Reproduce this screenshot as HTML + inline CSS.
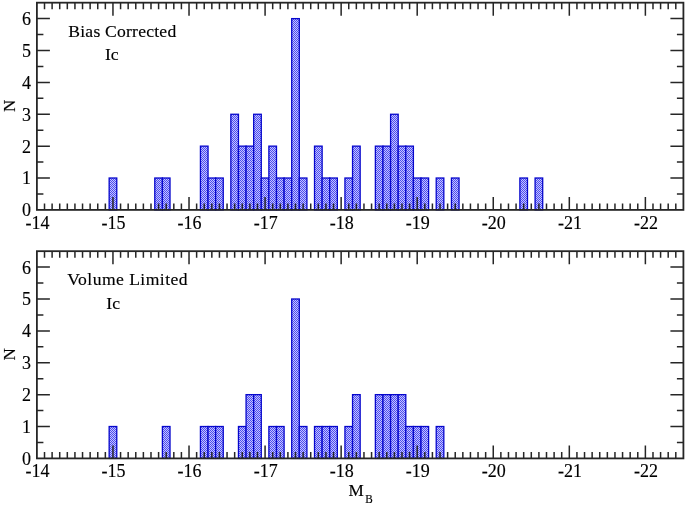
<!DOCTYPE html>
<html><head><meta charset="utf-8"><style>
html,body{margin:0;padding:0;background:#fff;}
svg{display:block;font-family:"Liberation Serif","Times New Roman",serif;}
text{stroke:#000;stroke-width:0.15px;}
</style></head><body>
<svg width="686" height="506" viewBox="0 0 686 506">
<defs><pattern id="chk" width="2" height="2" patternUnits="userSpaceOnUse">
<rect width="2" height="2" fill="#c4c4ff"/><rect width="1" height="1" fill="#4c4cf0"/><rect x="1" y="1" width="1" height="1" fill="#4c4cf0"/>
</pattern></defs>
<rect width="686" height="506" fill="#fff"/>
<g fill="url(#chk)" stroke="#0606cc" stroke-width="1.3"><rect x="109.16" y="178.02" width="7.61" height="31.88"/><rect x="154.79" y="178.02" width="7.61" height="31.88"/><rect x="162.4" y="178.02" width="7.61" height="31.88"/><rect x="200.43" y="146.14" width="7.61" height="63.76"/><rect x="208.04" y="178.02" width="7.61" height="31.88"/><rect x="215.64" y="178.02" width="7.61" height="31.88"/><rect x="230.85" y="114.26" width="7.61" height="95.64"/><rect x="238.46" y="146.14" width="7.61" height="63.76"/><rect x="246.07" y="146.14" width="7.61" height="63.76"/><rect x="253.67" y="114.26" width="7.61" height="95.64"/><rect x="261.28" y="178.02" width="7.61" height="31.88"/><rect x="268.88" y="146.14" width="7.61" height="63.76"/><rect x="276.49" y="178.02" width="7.61" height="31.88"/><rect x="284.1" y="178.02" width="7.61" height="31.88"/><rect x="291.7" y="18.62" width="7.61" height="191.28"/><rect x="299.31" y="178.02" width="7.61" height="31.88"/><rect x="314.52" y="146.14" width="7.61" height="63.76"/><rect x="322.13" y="178.02" width="7.61" height="31.88"/><rect x="329.73" y="178.02" width="7.61" height="31.88"/><rect x="344.94" y="178.02" width="7.61" height="31.88"/><rect x="352.55" y="146.14" width="7.61" height="63.76"/><rect x="375.37" y="146.14" width="7.61" height="63.76"/><rect x="382.97" y="146.14" width="7.61" height="63.76"/><rect x="390.58" y="114.26" width="7.61" height="95.64"/><rect x="398.19" y="146.14" width="7.61" height="63.76"/><rect x="405.79" y="146.14" width="7.61" height="63.76"/><rect x="413.4" y="178.02" width="7.61" height="31.88"/><rect x="421" y="178.02" width="7.61" height="31.88"/><rect x="436.22" y="178.02" width="7.61" height="31.88"/><rect x="451.43" y="178.02" width="7.61" height="31.88"/><rect x="519.88" y="178.02" width="7.61" height="31.88"/><rect x="535.09" y="178.02" width="7.61" height="31.88"/></g>
<path d="M44.51 209.9v-6.5M44.51 2.68v6.5M52.11 209.9v-6.5M52.11 2.68v6.5M59.72 209.9v-6.5M59.72 2.68v6.5M67.32 209.9v-6.5M67.32 2.68v6.5M74.93 209.9v-6.5M74.93 2.68v6.5M82.54 209.9v-6.5M82.54 2.68v6.5M90.14 209.9v-6.5M90.14 2.68v6.5M97.75 209.9v-6.5M97.75 2.68v6.5M105.35 209.9v-6.5M105.35 2.68v6.5M112.96 209.9v-13M112.96 2.68v13M120.57 209.9v-6.5M120.57 2.68v6.5M128.17 209.9v-6.5M128.17 2.68v6.5M135.78 209.9v-6.5M135.78 2.68v6.5M143.38 209.9v-6.5M143.38 2.68v6.5M150.99 209.9v-6.5M150.99 2.68v6.5M158.6 209.9v-6.5M158.6 2.68v6.5M166.2 209.9v-6.5M166.2 2.68v6.5M173.81 209.9v-6.5M173.81 2.68v6.5M181.41 209.9v-6.5M181.41 2.68v6.5M189.02 209.9v-13M189.02 2.68v13M196.63 209.9v-6.5M196.63 2.68v6.5M204.23 209.9v-6.5M204.23 2.68v6.5M211.84 209.9v-6.5M211.84 2.68v6.5M219.44 209.9v-6.5M219.44 2.68v6.5M227.05 209.9v-6.5M227.05 2.68v6.5M234.66 209.9v-6.5M234.66 2.68v6.5M242.26 209.9v-6.5M242.26 2.68v6.5M249.87 209.9v-6.5M249.87 2.68v6.5M257.47 209.9v-6.5M257.47 2.68v6.5M265.08 209.9v-13M265.08 2.68v13M272.69 209.9v-6.5M272.69 2.68v6.5M280.29 209.9v-6.5M280.29 2.68v6.5M287.9 209.9v-6.5M287.9 2.68v6.5M295.5 209.9v-6.5M295.5 2.68v6.5M303.11 209.9v-6.5M303.11 2.68v6.5M310.72 209.9v-6.5M310.72 2.68v6.5M318.32 209.9v-6.5M318.32 2.68v6.5M325.93 209.9v-6.5M325.93 2.68v6.5M333.53 209.9v-6.5M333.53 2.68v6.5M341.14 209.9v-13M341.14 2.68v13M348.75 209.9v-6.5M348.75 2.68v6.5M356.35 209.9v-6.5M356.35 2.68v6.5M363.96 209.9v-6.5M363.96 2.68v6.5M371.56 209.9v-6.5M371.56 2.68v6.5M379.17 209.9v-6.5M379.17 2.68v6.5M386.78 209.9v-6.5M386.78 2.68v6.5M394.38 209.9v-6.5M394.38 2.68v6.5M401.99 209.9v-6.5M401.99 2.68v6.5M409.59 209.9v-6.5M409.59 2.68v6.5M417.2 209.9v-13M417.2 2.68v13M424.81 209.9v-6.5M424.81 2.68v6.5M432.41 209.9v-6.5M432.41 2.68v6.5M440.02 209.9v-6.5M440.02 2.68v6.5M447.62 209.9v-6.5M447.62 2.68v6.5M455.23 209.9v-6.5M455.23 2.68v6.5M462.84 209.9v-6.5M462.84 2.68v6.5M470.44 209.9v-6.5M470.44 2.68v6.5M478.05 209.9v-6.5M478.05 2.68v6.5M485.65 209.9v-6.5M485.65 2.68v6.5M493.26 209.9v-13M493.26 2.68v13M500.87 209.9v-6.5M500.87 2.68v6.5M508.47 209.9v-6.5M508.47 2.68v6.5M516.08 209.9v-6.5M516.08 2.68v6.5M523.68 209.9v-6.5M523.68 2.68v6.5M531.29 209.9v-6.5M531.29 2.68v6.5M538.9 209.9v-6.5M538.9 2.68v6.5M546.5 209.9v-6.5M546.5 2.68v6.5M554.11 209.9v-6.5M554.11 2.68v6.5M561.71 209.9v-6.5M561.71 2.68v6.5M569.32 209.9v-13M569.32 2.68v13M576.93 209.9v-6.5M576.93 2.68v6.5M584.53 209.9v-6.5M584.53 2.68v6.5M592.14 209.9v-6.5M592.14 2.68v6.5M599.74 209.9v-6.5M599.74 2.68v6.5M607.35 209.9v-6.5M607.35 2.68v6.5M614.96 209.9v-6.5M614.96 2.68v6.5M622.56 209.9v-6.5M622.56 2.68v6.5M630.17 209.9v-6.5M630.17 2.68v6.5M637.77 209.9v-6.5M637.77 2.68v6.5M645.38 209.9v-13M645.38 2.68v13M652.99 209.9v-6.5M652.99 2.68v6.5M660.59 209.9v-6.5M660.59 2.68v6.5M668.2 209.9v-6.5M668.2 2.68v6.5M675.8 209.9v-6.5M675.8 2.68v6.5M36.9 193.96h6.5M683.41 193.96h-6.5M36.9 178.02h13M683.41 178.02h-13M36.9 162.08h6.5M683.41 162.08h-6.5M36.9 146.14h13M683.41 146.14h-13M36.9 130.2h6.5M683.41 130.2h-6.5M36.9 114.26h13M683.41 114.26h-13M36.9 98.32h6.5M683.41 98.32h-6.5M36.9 82.38h13M683.41 82.38h-13M36.9 66.44h6.5M683.41 66.44h-6.5M36.9 50.5h13M683.41 50.5h-13M36.9 34.56h6.5M683.41 34.56h-6.5M36.9 18.62h13M683.41 18.62h-13" stroke="#262626" stroke-width="1.5" fill="none"/>
<rect x="36.9" y="2.68" width="646.51" height="207.22" fill="none" stroke="#262626" stroke-width="1.8"/>
<g font-size="18.0"><text transform="translate(31.1 210.3) scale(1 1)" text-anchor="end" dominant-baseline="central">0</text><text transform="translate(31.1 178.42) scale(1 1)" text-anchor="end" dominant-baseline="central">1</text><text transform="translate(31.1 146.54) scale(1 1)" text-anchor="end" dominant-baseline="central">2</text><text transform="translate(31.1 114.66) scale(1 1)" text-anchor="end" dominant-baseline="central">3</text><text transform="translate(31.1 82.78) scale(1 1)" text-anchor="end" dominant-baseline="central">4</text><text transform="translate(31.1 50.9) scale(1 1)" text-anchor="end" dominant-baseline="central">5</text><text transform="translate(31.1 19.02) scale(1 1)" text-anchor="end" dominant-baseline="central">6</text><text transform="translate(37.5 228.9) scale(1 1)" text-anchor="middle">-14</text><text transform="translate(113.56 228.9) scale(1 1)" text-anchor="middle">-15</text><text transform="translate(189.62 228.9) scale(1 1)" text-anchor="middle">-16</text><text transform="translate(265.68 228.9) scale(1 1)" text-anchor="middle">-17</text><text transform="translate(341.74 228.9) scale(1 1)" text-anchor="middle">-18</text><text transform="translate(417.8 228.9) scale(1 1)" text-anchor="middle">-19</text><text transform="translate(493.86 228.9) scale(1 1)" text-anchor="middle">-20</text><text transform="translate(569.92 228.9) scale(1 1)" text-anchor="middle">-21</text><text transform="translate(645.98 228.9) scale(1 1)" text-anchor="middle">-22</text></g>
<g fill="url(#chk)" stroke="#0606cc" stroke-width="1.3"><rect x="109.16" y="426.52" width="7.61" height="31.88"/><rect x="162.4" y="426.52" width="7.61" height="31.88"/><rect x="200.43" y="426.52" width="7.61" height="31.88"/><rect x="208.04" y="426.52" width="7.61" height="31.88"/><rect x="215.64" y="426.52" width="7.61" height="31.88"/><rect x="238.46" y="426.52" width="7.61" height="31.88"/><rect x="246.07" y="394.64" width="7.61" height="63.76"/><rect x="253.67" y="394.64" width="7.61" height="63.76"/><rect x="268.88" y="426.52" width="7.61" height="31.88"/><rect x="276.49" y="426.52" width="7.61" height="31.88"/><rect x="291.7" y="299" width="7.61" height="159.4"/><rect x="299.31" y="426.52" width="7.61" height="31.88"/><rect x="314.52" y="426.52" width="7.61" height="31.88"/><rect x="322.13" y="426.52" width="7.61" height="31.88"/><rect x="329.73" y="426.52" width="7.61" height="31.88"/><rect x="344.94" y="426.52" width="7.61" height="31.88"/><rect x="352.55" y="394.64" width="7.61" height="63.76"/><rect x="375.37" y="394.64" width="7.61" height="63.76"/><rect x="382.97" y="394.64" width="7.61" height="63.76"/><rect x="390.58" y="394.64" width="7.61" height="63.76"/><rect x="398.19" y="394.64" width="7.61" height="63.76"/><rect x="405.79" y="426.52" width="7.61" height="31.88"/><rect x="413.4" y="426.52" width="7.61" height="31.88"/><rect x="421" y="426.52" width="7.61" height="31.88"/><rect x="436.22" y="426.52" width="7.61" height="31.88"/></g>
<path d="M44.51 458.4v-6.5M44.51 251.18v6.5M52.11 458.4v-6.5M52.11 251.18v6.5M59.72 458.4v-6.5M59.72 251.18v6.5M67.32 458.4v-6.5M67.32 251.18v6.5M74.93 458.4v-6.5M74.93 251.18v6.5M82.54 458.4v-6.5M82.54 251.18v6.5M90.14 458.4v-6.5M90.14 251.18v6.5M97.75 458.4v-6.5M97.75 251.18v6.5M105.35 458.4v-6.5M105.35 251.18v6.5M112.96 458.4v-13M112.96 251.18v13M120.57 458.4v-6.5M120.57 251.18v6.5M128.17 458.4v-6.5M128.17 251.18v6.5M135.78 458.4v-6.5M135.78 251.18v6.5M143.38 458.4v-6.5M143.38 251.18v6.5M150.99 458.4v-6.5M150.99 251.18v6.5M158.6 458.4v-6.5M158.6 251.18v6.5M166.2 458.4v-6.5M166.2 251.18v6.5M173.81 458.4v-6.5M173.81 251.18v6.5M181.41 458.4v-6.5M181.41 251.18v6.5M189.02 458.4v-13M189.02 251.18v13M196.63 458.4v-6.5M196.63 251.18v6.5M204.23 458.4v-6.5M204.23 251.18v6.5M211.84 458.4v-6.5M211.84 251.18v6.5M219.44 458.4v-6.5M219.44 251.18v6.5M227.05 458.4v-6.5M227.05 251.18v6.5M234.66 458.4v-6.5M234.66 251.18v6.5M242.26 458.4v-6.5M242.26 251.18v6.5M249.87 458.4v-6.5M249.87 251.18v6.5M257.47 458.4v-6.5M257.47 251.18v6.5M265.08 458.4v-13M265.08 251.18v13M272.69 458.4v-6.5M272.69 251.18v6.5M280.29 458.4v-6.5M280.29 251.18v6.5M287.9 458.4v-6.5M287.9 251.18v6.5M295.5 458.4v-6.5M295.5 251.18v6.5M303.11 458.4v-6.5M303.11 251.18v6.5M310.72 458.4v-6.5M310.72 251.18v6.5M318.32 458.4v-6.5M318.32 251.18v6.5M325.93 458.4v-6.5M325.93 251.18v6.5M333.53 458.4v-6.5M333.53 251.18v6.5M341.14 458.4v-13M341.14 251.18v13M348.75 458.4v-6.5M348.75 251.18v6.5M356.35 458.4v-6.5M356.35 251.18v6.5M363.96 458.4v-6.5M363.96 251.18v6.5M371.56 458.4v-6.5M371.56 251.18v6.5M379.17 458.4v-6.5M379.17 251.18v6.5M386.78 458.4v-6.5M386.78 251.18v6.5M394.38 458.4v-6.5M394.38 251.18v6.5M401.99 458.4v-6.5M401.99 251.18v6.5M409.59 458.4v-6.5M409.59 251.18v6.5M417.2 458.4v-13M417.2 251.18v13M424.81 458.4v-6.5M424.81 251.18v6.5M432.41 458.4v-6.5M432.41 251.18v6.5M440.02 458.4v-6.5M440.02 251.18v6.5M447.62 458.4v-6.5M447.62 251.18v6.5M455.23 458.4v-6.5M455.23 251.18v6.5M462.84 458.4v-6.5M462.84 251.18v6.5M470.44 458.4v-6.5M470.44 251.18v6.5M478.05 458.4v-6.5M478.05 251.18v6.5M485.65 458.4v-6.5M485.65 251.18v6.5M493.26 458.4v-13M493.26 251.18v13M500.87 458.4v-6.5M500.87 251.18v6.5M508.47 458.4v-6.5M508.47 251.18v6.5M516.08 458.4v-6.5M516.08 251.18v6.5M523.68 458.4v-6.5M523.68 251.18v6.5M531.29 458.4v-6.5M531.29 251.18v6.5M538.9 458.4v-6.5M538.9 251.18v6.5M546.5 458.4v-6.5M546.5 251.18v6.5M554.11 458.4v-6.5M554.11 251.18v6.5M561.71 458.4v-6.5M561.71 251.18v6.5M569.32 458.4v-13M569.32 251.18v13M576.93 458.4v-6.5M576.93 251.18v6.5M584.53 458.4v-6.5M584.53 251.18v6.5M592.14 458.4v-6.5M592.14 251.18v6.5M599.74 458.4v-6.5M599.74 251.18v6.5M607.35 458.4v-6.5M607.35 251.18v6.5M614.96 458.4v-6.5M614.96 251.18v6.5M622.56 458.4v-6.5M622.56 251.18v6.5M630.17 458.4v-6.5M630.17 251.18v6.5M637.77 458.4v-6.5M637.77 251.18v6.5M645.38 458.4v-13M645.38 251.18v13M652.99 458.4v-6.5M652.99 251.18v6.5M660.59 458.4v-6.5M660.59 251.18v6.5M668.2 458.4v-6.5M668.2 251.18v6.5M675.8 458.4v-6.5M675.8 251.18v6.5M36.9 442.46h6.5M683.41 442.46h-6.5M36.9 426.52h13M683.41 426.52h-13M36.9 410.58h6.5M683.41 410.58h-6.5M36.9 394.64h13M683.41 394.64h-13M36.9 378.7h6.5M683.41 378.7h-6.5M36.9 362.76h13M683.41 362.76h-13M36.9 346.82h6.5M683.41 346.82h-6.5M36.9 330.88h13M683.41 330.88h-13M36.9 314.94h6.5M683.41 314.94h-6.5M36.9 299h13M683.41 299h-13M36.9 283.06h6.5M683.41 283.06h-6.5M36.9 267.12h13M683.41 267.12h-13" stroke="#262626" stroke-width="1.5" fill="none"/>
<rect x="36.9" y="251.18" width="646.51" height="207.22" fill="none" stroke="#262626" stroke-width="1.8"/>
<g font-size="18.0"><text transform="translate(31.1 458.8) scale(1 1)" text-anchor="end" dominant-baseline="central">0</text><text transform="translate(31.1 426.92) scale(1 1)" text-anchor="end" dominant-baseline="central">1</text><text transform="translate(31.1 395.04) scale(1 1)" text-anchor="end" dominant-baseline="central">2</text><text transform="translate(31.1 363.16) scale(1 1)" text-anchor="end" dominant-baseline="central">3</text><text transform="translate(31.1 331.28) scale(1 1)" text-anchor="end" dominant-baseline="central">4</text><text transform="translate(31.1 299.4) scale(1 1)" text-anchor="end" dominant-baseline="central">5</text><text transform="translate(31.1 267.52) scale(1 1)" text-anchor="end" dominant-baseline="central">6</text><text transform="translate(37.5 477.4) scale(1 1)" text-anchor="middle">-14</text><text transform="translate(113.56 477.4) scale(1 1)" text-anchor="middle">-15</text><text transform="translate(189.62 477.4) scale(1 1)" text-anchor="middle">-16</text><text transform="translate(265.68 477.4) scale(1 1)" text-anchor="middle">-17</text><text transform="translate(341.74 477.4) scale(1 1)" text-anchor="middle">-18</text><text transform="translate(417.8 477.4) scale(1 1)" text-anchor="middle">-19</text><text transform="translate(493.86 477.4) scale(1 1)" text-anchor="middle">-20</text><text transform="translate(569.92 477.4) scale(1 1)" text-anchor="middle">-21</text><text transform="translate(645.98 477.4) scale(1 1)" text-anchor="middle">-22</text></g>

<g font-size="17.6">
<text x="68.3" y="36.5" letter-spacing="0.22">Bias Corrected</text>
<text x="105" y="59.6">Ic</text>
<text x="67.2" y="284.7" letter-spacing="0.45">Volume Limited</text>
<text x="106.3" y="309.3">Ic</text>
</g>
<g font-size="18">
<text transform="translate(15.4 105.9) rotate(-90) scale(1 1.04)" text-anchor="middle" font-size="17">N</text>
<text transform="translate(15.4 354.4) rotate(-90) scale(1 1.04)" text-anchor="middle" font-size="17">N</text>
<text x="348.6" y="495.65" font-size="17.2">M</text><text transform="translate(365.3 503.4) scale(0.88 1.05)" font-size="12.8">B</text>
</g>

</svg>
</body></html>
